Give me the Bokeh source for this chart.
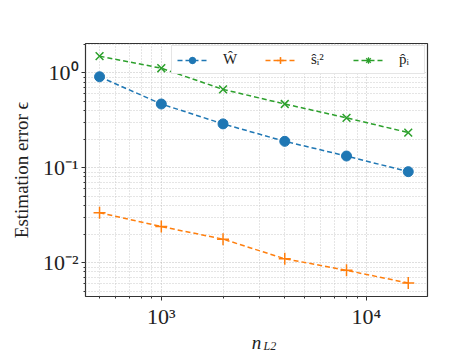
from bokeh.plotting import figure
from bokeh.models import (FixedTicker, CustomJSTickFormatter, Legend, LegendItem,
                          Label, ColumnDataSource, Range1d)
from bokeh.embed import file_html
from bokeh.resources import INLINE

n_l2 = [500, 1000, 2000, 4000, 8000, 16000]
err_W = [0.91, 0.47, 0.29, 0.19, 0.133, 0.091]
err_s2 = [0.0336, 0.024, 0.0177, 0.011, 0.0083, 0.0061]
err_p = [1.5, 1.12, 0.67, 0.47, 0.336, 0.235]
labels = ["Ŵ", "ŝᵢ²", "p̂ᵢ"]
colors = ["#1f77b4", "#ff7f0e", "#2ca02c"]

SERIF = "Liberation Serif"

p = figure(width=466, height=355, x_axis_type="log", y_axis_type="log",
           x_range=Range1d(427, 19860), y_range=Range1d(0.0044, 2.04),
           output_backend="svg", toolbar_location=None,
           min_border_left=85, min_border_right=39, min_border_top=43, min_border_bottom=53)

xmaj = [1e3, 1e4]
xmin_t = [m * 10 ** e for e in range(2, 5) for m in range(2, 10)]
ymaj = [1e-3, 1e-2, 1e-1, 1e0]
ymin_t = [m * 10.0 ** e for e in range(-3, 1) for m in range(2, 10)]
p.xaxis.ticker = FixedTicker(ticks=xmaj, minor_ticks=xmin_t)
p.yaxis.ticker = FixedTicker(ticks=ymaj, minor_ticks=ymin_t)
fmt = CustomJSTickFormatter(code="""
const sup = {'-':'⁻','0':'⁰','1':'¹','2':'²','3':'³','4':'⁴','5':'⁵','6':'⁶','7':'⁷','8':'⁸','9':'⁹'};
const e = Math.round(Math.log10(tick));
return '10' + String(e).split('').map(c => sup[c]).join('');
""")
p.xaxis.formatter = fmt
p.yaxis.formatter = fmt

for ax in (p.xaxis[0], p.yaxis[0]):
    ax.major_label_text_font = SERIF
    ax.major_label_text_font_size = "22px"
    ax.major_label_text_color = "#222222"
    ax.axis_label_text_font = SERIF
    ax.axis_label_text_font_style = "normal"
    ax.axis_label_text_font_size = "19px"
    ax.axis_label_text_color = "#222222"
    ax.axis_line_color = None
    ax.major_tick_in = 0
    ax.major_tick_out = 4
    ax.minor_tick_in = 0
    ax.minor_tick_out = 2
    ax.major_tick_line_color = "#333333"
    ax.minor_tick_line_color = "#333333"
    ax.major_label_standoff = 3

p.yaxis.axis_label = "Estimation error ϵ"
p.xaxis.axis_label = "n"
p.xaxis.axis_label_text_font_style = "italic"
p.xaxis.axis_label_standoff = 0
p.yaxis.axis_label_standoff = 8

p.outline_line_color = "#333333"
p.outline_line_width = 1.2

for g in (p.xgrid[0], p.ygrid[0]):
    g.grid_line_color = "#b8b8b8"
    g.grid_line_dash = "1 2"
    g.grid_line_width = 0.9
    g.minor_grid_line_color = "#c4c4c4"
    g.minor_grid_line_dash = "1 2"
    g.minor_grid_line_width = 0.9

items = []
series = [(err_W, "circle", 10, 0), (err_s2, "cross", 12, 1.5), (err_p, "x", 11, 1.5)]
for (ys, marker, size, lw), lab, col in zip(series, labels, colors):
    src = ColumnDataSource(dict(x=n_l2, y=ys))
    ln = p.line("x", "y", source=src, line_color=col, line_width=1.5, line_dash="5 3")
    if marker == "circle":
        sc = p.scatter("x", "y", source=src, marker="circle", size=size,
                       fill_color=col, line_color=col)
    else:
        sc = p.scatter("x", "y", source=src, marker=marker, size=size,
                       line_color=col, line_width=lw)
    # legend-only error-bar stroke (point lies outside the visible range)
    bar = p.scatter(x=[1], y=[1e-6], marker="cross", size=13,
                    line_color=col, line_width=1.2)
    items.append(LegendItem(label=lab, renderers=[ln, sc, bar]))

legend = Legend(items=items, orientation="horizontal", location="top_right",
                label_text_font=SERIF, label_text_font_size="15px",
                label_text_color="#222222",
                border_line_color="#cccccc", border_line_width=1,
                background_fill_alpha=1.0, glyph_width=30, glyph_height=16,
                spacing=22, padding=5, margin=2, label_standoff=16)
p.add_layout(legend, "center")

# subscript of the x-axis label, drawn in the (empty) right border panel
sub = Label(x=-164, y=-56, x_units="screen", y_units="screen", text="L2",
            text_font=SERIF, text_font_style="italic", text_font_size="12px",
            text_color="#222222")
p.add_layout(sub, "right")

open("out.html", "w").write(file_html(p, INLINE))
